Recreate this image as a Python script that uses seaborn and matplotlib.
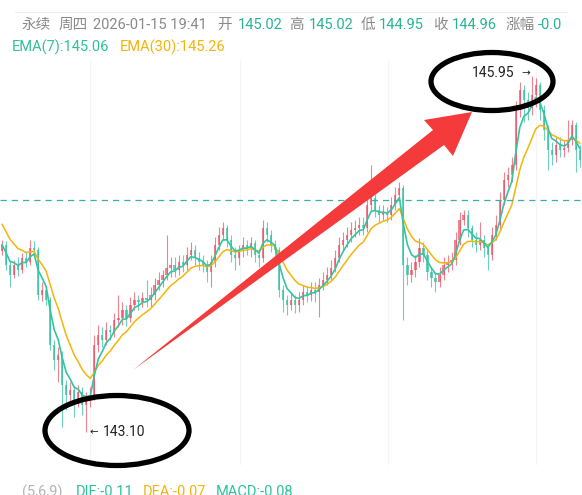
import numpy as np
import pandas as pd
import matplotlib
matplotlib.use('Agg')
import matplotlib.pyplot as plt
from matplotlib.patches import Ellipse, Polygon
import seaborn as sns

W, H = 582, 495

# candle data (one candle every ~4 px)
closes = [
    144.60, 144.44, 144.36, 144.44, 144.40, 144.49, 144.46, 144.57, 144.56, 144.20,
    144.24, 144.16, 143.80, 143.68, 143.72, 143.48, 143.40, 143.44, 143.36, 143.42,
    143.32, 143.37, 143.40, 143.80, 143.88, 143.84, 143.92, 143.90, 144.00, 144.01,
    144.08, 144.01, 144.12, 144.16, 144.14, 144.17, 144.16, 144.20, 144.28, 144.32,
    144.36, 144.41, 144.44, 144.40, 144.46, 144.44, 144.52, 144.56, 144.49, 144.46,
    144.44, 144.38, 144.46, 144.60, 144.68, 144.73, 144.64, 144.52, 144.49, 144.56,
    144.60, 144.57, 144.61, 144.52, 144.49, 144.73, 144.68, 144.59, 144.56, 144.24,
    144.16, 144.12, 144.16, 144.12, 144.16, 144.22, 144.20, 144.24, 144.22, 144.28,
    144.32, 144.36, 144.41, 144.49, 144.60, 144.64, 144.68, 144.72, 144.73, 144.76,
    144.73, 144.92, 144.97, 144.88, 144.84, 144.86, 144.84, 144.92, 145.00, 145.05,
    144.44, 144.36, 144.40, 144.46, 144.57, 144.52, 144.38, 144.33, 144.30, 144.36,
    144.44, 144.46, 144.48, 144.64, 144.80, 144.84, 144.73, 144.64, 144.60, 144.64,
    144.57, 144.52, 144.68, 144.76, 144.96, 145.12, 145.16, 145.24, 145.68, 145.84,
    145.76, 145.69, 145.80, 145.88, 145.68, 145.52, 145.36, 145.32, 145.40, 145.36,
    145.37, 145.44, 145.56, 145.36, 145.28,
]
highs = [
    144.64, 144.63, 144.47, 144.48, 144.50, 144.53, 144.55, 144.64, 144.63, 144.58,
    144.30, 144.27, 144.18, 143.84, 143.78, 143.75, 143.52, 143.50, 143.47, 143.48,
    143.46, 143.42, 143.46, 143.88, 143.96, 143.94, 143.98, 143.96, 144.05, 144.20,
    144.14, 144.12, 144.18, 144.22, 144.20, 144.22, 144.32, 144.26, 144.33, 144.38,
    144.40, 144.68, 144.50, 144.50, 144.52, 144.52, 144.58, 144.62, 144.60, 144.54,
    144.52, 144.48, 144.52, 144.66, 144.74, 144.78, 144.76, 144.68, 144.58, 144.60,
    144.66, 144.64, 144.66, 144.64, 144.56, 144.80, 144.78, 144.72, 144.64, 144.58,
    144.28, 144.20, 144.22, 144.20, 144.22, 144.28, 144.27, 144.30, 144.30, 144.33,
    144.38, 144.42, 144.48, 144.56, 144.66, 144.70, 144.74, 144.78, 144.80, 144.82,
    144.82, 144.98, 145.24, 145.02, 144.92, 144.92, 144.90, 144.98, 145.06, 145.10,
    145.08, 144.50, 144.46, 144.52, 144.65, 144.62, 144.56, 144.42, 144.38, 144.42,
    144.50, 144.52, 144.54, 144.70, 144.86, 144.88, 144.88, 144.76, 144.70, 144.78,
    144.68, 144.60, 144.74, 144.84, 145.02, 145.18, 145.22, 145.30, 145.75, 145.90,
    145.88, 145.82, 145.95, 145.93, 145.90, 145.72, 145.56, 145.42, 145.46, 145.46,
    145.44, 145.60, 145.60, 145.58, 145.40,
]
lows = [
    144.52, 144.40, 144.26, 144.33, 144.35, 144.37, 144.42, 144.44, 144.50, 144.16,
    144.15, 144.12, 143.76, 143.60, 143.50, 143.14, 143.28, 143.32, 143.22, 143.30,
    143.24, 143.10, 143.30, 143.36, 143.74, 143.78, 143.80, 143.84, 143.86, 143.94,
    143.96, 143.95, 143.98, 144.08, 144.08, 144.10, 144.10, 144.10, 144.16, 144.24,
    144.26, 144.32, 144.34, 144.34, 144.36, 144.38, 144.40, 144.48, 144.44, 144.40,
    144.38, 144.30, 144.26, 144.42, 144.56, 144.64, 144.58, 144.46, 144.40, 144.44,
    144.50, 144.52, 144.50, 144.46, 144.42, 144.46, 144.62, 144.54, 144.50, 144.18,
    144.06, 144.04, 144.08, 144.05, 144.06, 144.12, 144.14, 144.15, 144.14, 144.02,
    144.24, 144.28, 144.32, 144.38, 144.46, 144.56, 144.58, 144.62, 144.66, 144.68,
    144.68, 144.70, 144.88, 144.82, 144.78, 144.80, 144.78, 144.80, 144.88, 144.96,
    144.00, 144.28, 144.30, 144.34, 144.42, 144.46, 144.32, 144.26, 144.22, 144.26,
    144.32, 144.38, 144.40, 144.44, 144.60, 144.76, 144.66, 144.58, 144.54, 144.56,
    144.50, 144.40, 144.48, 144.64, 144.72, 144.92, 145.06, 145.10, 145.20, 145.62,
    145.58, 145.60, 145.64, 145.70, 145.60, 145.44, 145.20, 145.24, 145.26, 145.30,
    145.30, 145.34, 145.40, 145.18, 145.22,
]
first_open = 144.55
last_price = 144.96
ema_slow_start = 144.80     # orange line level at the left edge
peak_price = 145.95
trough_price = 143.10

# the screenshot has denser candles, so spans are scaled to the 4 px spacing used here
ema_fast_span = 4
ema_slow_span = 10

header_items = [
    ('永续', 22, 'label'), ('周四', 59, 'label'), ('2026-01-15 19:41', 93, 'label'),
    ('开', 217, 'label'), ('145.02', 238, 'value'),
    ('高', 289, 'label'), ('145.02', 309, 'value'),
    ('低', 361, 'label'), ('144.95', 379, 'value'),
    ('收', 433, 'label'), ('144.96', 452, 'value'),
    ('涨幅', 506, 'label'), ('-0.0', 538, 'value'),
]
macd_items = [('(5,6,9)', 22, 'label'), ('DIF:-0.11', 76, 'fast'),
              ('DEA:-0.07', 143, 'slow'), ('MACD:-0.08', 216, 'fast')]

RED = '#ee4d63'
TEAL = '#2fbf9c'
ORANGE = '#f5b40a'
GRAY = '#8a8a8a'

df = pd.DataFrame({'close': closes, 'high': highs, 'low': lows})
df['open'] = [first_open] + closes[:-1]
df['idx'] = np.arange(len(df))
df['ema_fast'] = pd.Series([closes[0]] + closes).ewm(span=ema_fast_span, adjust=False).mean().iloc[1:].values
df['ema_slow'] = pd.Series([ema_slow_start] + closes).ewm(span=ema_slow_span, adjust=False).mean().iloc[1:].values

sns.set_theme(style='white')
plt.rcParams['font.family'] = ['Roboto', 'DejaVu Sans', 'Noto Sans CJK SC']

fig = plt.figure(figsize=(W / 100, H / 100), dpi=100)
fig.patch.set_facecolor('white')


def px(x, y):
    return x / W, 1 - y / H


# chart area: pixel rows 60..465
ax = fig.add_axes([0, 30 / H, 1, 405 / H])
ax.set_xlim(-0.5, len(df) - 0.5)
scale = (432 - 76) / (peak_price - trough_price)
ax.set_ylim(trough_price - (465 - 432) / scale, peak_price + (76 - 60) / scale)
ax.axis('off')
candle_px = W / len(df)

# faint grid
for gx in [90, 240, 388, 536]:
    ax.axvline(gx / candle_px - 0.5, color='#f4f4f4', lw=0.8, zorder=0)

up = df['close'] >= df['open']
colors = np.where(up, RED, TEAL)
ax.vlines(df['idx'], df['low'], df['high'], colors=colors, lw=0.8, alpha=0.7, zorder=1)
body_bottom = df[['open', 'close']].min(axis=1)
body_h = (df['close'] - df['open']).abs().clip(lower=0.01)
ax.bar(df['idx'], body_h, bottom=body_bottom, width=0.55, color=colors, alpha=0.7,
       linewidth=0, zorder=1)

sns.lineplot(data=df, x='idx', y='ema_fast', color='#35c4a2', lw=1.2, ax=ax, zorder=3)
sns.lineplot(data=df, x='idx', y='ema_slow', color=ORANGE, lw=1.1, ax=ax, zorder=2)

ax.axhline(last_price, color='#3aafa4', lw=0.9, ls=(0, (5, 4)), zorder=2)

# extreme labels
i_hi = int(np.argmax(highs))
i_lo = int(np.argmin(lows))
ax.text(i_hi - 17 / candle_px, peak_price + 3 / scale, '145.95', ha='right', va='center',
        fontsize=10, color='#222222', zorder=5)
ax.text(i_hi - 0.5, peak_price + 3 / scale, '→', ha='right', va='center', fontsize=7.5,
        color='#222222', zorder=5)
ax.text(i_lo + 0.7, trough_price, '←', ha='left', va='center', fontsize=7.5, color='#222222',
        zorder=5)
ax.text(i_lo + 4.2, trough_price, '143.10', ha='left', va='center', fontsize=10, color='#222222',
        zorder=5)

# hand-drawn red arrow
arrow_pts = [px(133, 370), px(433, 130), px(424, 120), px(472, 112), px(453, 156), px(444, 145)]
fig.patches.append(Polygon(arrow_pts, closed=True, transform=fig.transFigure,
                           facecolor='#f43a3a', edgecolor='none', zorder=6))

# black circles
for cx, cy, w, h in [(492, 81.5, 122, 58), (117, 430.5, 144, 70)]:
    fig.patches.append(Ellipse(px(cx, cy), w / W, h / H, transform=fig.transFigure,
                               facecolor='none', edgecolor='black', lw=3.8, zorder=7))

# header
fig.add_artist(plt.Line2D([15 / W, 567 / W], [1 - 12 / H, 1 - 12 / H], color='#eeeeee', lw=0.8))
for txt, x, kind in header_items:
    fig.text(*px(x, 25), txt, ha='left', va='center', fontsize=10.5,
             color=GRAY if kind == 'label' else '#27b394')
fig.text(*px(12, 47), 'EMA(7):145.06', ha='left', va='center', fontsize=10.5, color='#2fc09e')
fig.text(*px(120, 47), 'EMA(30):145.26', ha='left', va='center', fontsize=10.5, color=ORANGE)

# MACD line sits at the bottom edge, partly cut off as in the screenshot
macd_colors = {'label': '#b5b5b5', 'fast': '#2fc09e', 'slow': ORANGE}
for txt, x, kind in macd_items:
    fig.text(*px(x, 485), txt, ha='left', va='top', fontsize=10.5, color=macd_colors[kind])

fig.savefig('out.png', dpi=100, facecolor='white')
